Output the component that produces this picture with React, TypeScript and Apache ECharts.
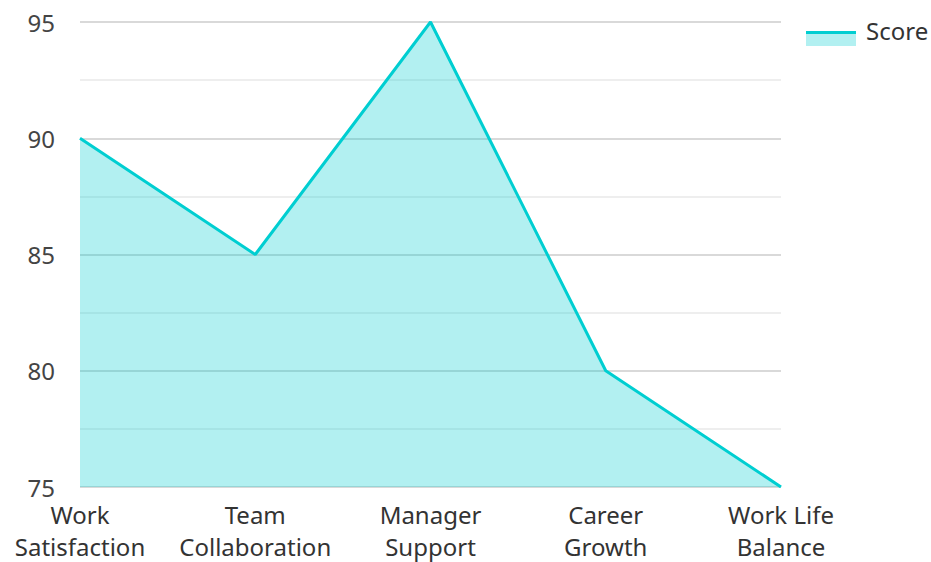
import React, { useEffect, useRef } from "react";
import * as echarts from "echarts";

const categories = ["Work\nSatisfaction", "Team\nCollaboration", "Manager\nSupport", "Career\nGrowth", "Work Life\nBalance"];
const scores = [90, 85, 95, 80, 75];
const seriesName = "Score";

export default function App() {
  const ref = useRef<HTMLDivElement>(null);
  useEffect(() => {
    const chart = echarts.init(ref.current!, null, { renderer: "svg" });
    chart.setOption({
      animation: false,
      textStyle: { fontFamily: "Noto Sans" },
      grid: { left: 80, right: 150, top: 22, bottom: 70, containLabel: false },
      legend: { show: false },
      graphic: [
        {
          type: "rect",
          left: 806,
          top: 31,
          shape: { width: 50, height: 15 },
          style: { fill: "rgba(0,206,209,0.3)" },
        },
        {
          type: "rect",
          left: 806,
          top: 31,
          shape: { width: 50, height: 3 },
          style: { fill: "#00CED1" },
        },
        {
          type: "text",
          left: 866,
          top: 18,
          style: { text: seriesName, fontSize: 24, fill: "#333", fontFamily: "Noto Sans" },
        },
      ],
      xAxis: {
        type: "category",
        data: categories,
        boundaryGap: false,
        axisLine: { show: false },
        axisTick: { show: false },
        axisLabel: { fontSize: 24, color: "#333", lineHeight: 32, margin: 11, interval: 0, fontFamily: "Noto Sans" },
      },
      yAxis: {
        type: "value",
        min: 75,
        max: 95,
        interval: 5,
        axisLine: { show: false },
        axisTick: { show: false },
        axisLabel: { fontSize: 24, color: "#444", margin: 25, fontFamily: "Noto Sans" },
        splitLine: { show: true, lineStyle: { color: "#cccccc", width: 1.5 } },
        minorTick: { show: false, splitNumber: 2 },
        minorSplitLine: { show: true, lineStyle: { color: "#e8e8e8", width: 1.5 } },
      },
      series: [
        {
          name: seriesName,
          type: "line",
          data: scores,
          symbol: "none",
          lineStyle: { color: "#00CED1", width: 3 },
          itemStyle: { color: "#00CED1" },
          areaStyle: { color: "#00CED1", opacity: 0.3 },
        },
      ],
    });
    return () => chart.dispose();
  }, []);
  return <div ref={ref} style={{ width: 931, height: 562, position: "absolute", left: 0, top: 0 }} />;
}
